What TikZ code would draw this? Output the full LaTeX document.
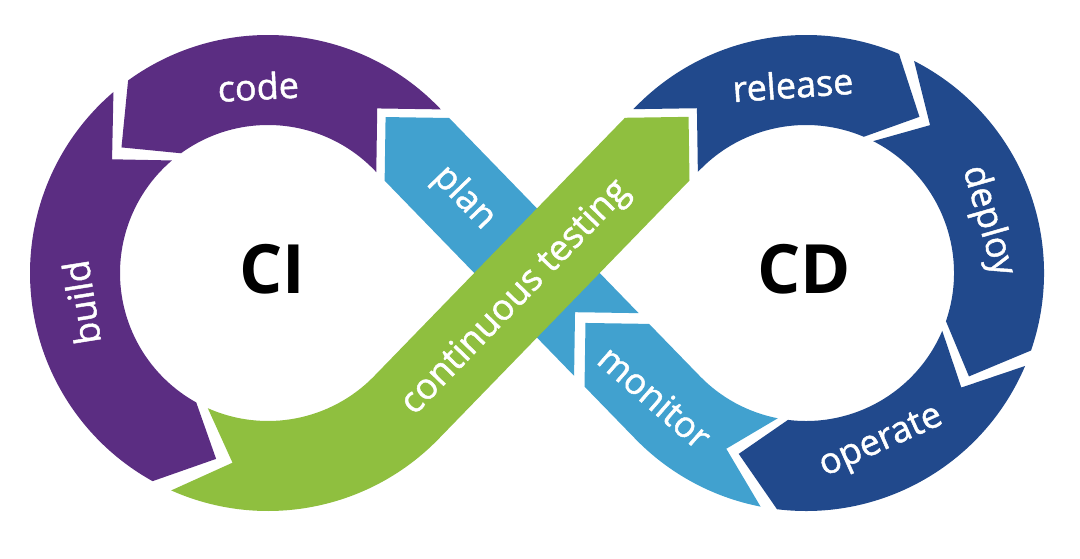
\documentclass[tikz,border=0pt]{standalone}
\usepackage{fontspec}
\setmainfont{Open Sans}
\newfontfamily\lblfont[FakeBold=1.3]{Open Sans}
\usetikzlibrary{calc}

\definecolor{ciPurple}{HTML}{5B2D82}
\definecolor{cdBlue}{HTML}{21498C}
\definecolor{loopBlue}{HTML}{41A1CF}
\definecolor{testGreen}{HTML}{8FBF3F}

\def\rOut{238}
\def\rIn{148}
\def\rMid{193}
% points on the two crossing bands: distance along, offset across
\newcommand{\onplan}[2]{($(TL)+(-45.85:#1)+(44.15:#2)$)}
\newcommand{\ongreen}[2]{($(GL)+(45.85:#1)+(-44.15:#2)$)}

\begin{document}
\begin{tikzpicture}[x=1pt,y=1pt,
    lbl/.style={text=white,inner sep=0pt,font=\lblfont\fontsize{36}{36}\selectfont},
    big/.style={text=black,font=\fontsize{68}{68}\selectfont\bfseries}]
  \useasboundingbox (0,-559) rectangle (1080,0);

  \coordinate (L) at (268,-273);
  \coordinate (R) at (806,-273);
  \coordinate (TL) at ($(L)+(44.15:\rMid)$);
  \coordinate (GL) at ($(L)+(-44.15:\rMid)$);

  % plan
  \fill[loopBlue] \onplan{287}{45} -- \onplan{15}{45} -- \onplan{-30}{0}
    -- \onplan{15}{-45} -- \onplan{287}{-45} -- \onplan{242}{0} -- cycle;
  % monitor
  \fill[loopBlue] ($(R)+(-101:\rOut)$) arc[start angle=-101,end angle=-135.85,radius=\rOut]
    -- \onplan{302}{-45} -- \onplan{257}{0} -- \onplan{302}{45}
    -- ($(R)+(224.15:\rIn)$) arc[start angle=224.15,end angle=259,radius=\rIn]
    -- ($(R)+(-114.4:\rMid)$) -- cycle;
  % code
  \fill[ciPurple] \onplan{3}{45} -- ($(L)+(44.15:\rOut)$)
    arc[start angle=44.15,end angle=126,radius=\rOut]
    -- ($(L)+(139.4:\rMid)$) -- ($(L)+(126:\rIn)$)
    arc[start angle=126,end angle=44.15,radius=\rIn]
    -- \onplan{3}{-45} -- \onplan{-42}{0} -- cycle;
  % build
  \fill[ciPurple] ($(L)+(130.5:\rOut)$) arc[start angle=130.5,end angle=241,radius=\rOut]
    -- ($(L)+(254.4:\rMid)$) -- ($(L)+(241:\rIn)$)
    arc[start angle=241,end angle=130.5,radius=\rIn]
    -- ($(L)+(143.9:\rMid)$) -- cycle;
  % release
  \fill[cdBlue] \ongreen{372}{-45} -- ($(R)+(135.85:\rOut)$)
    arc[start angle=135.85,end angle=67,radius=\rOut]
    -- ($(R)+(54:\rMid)$) -- ($(R)+(67:\rIn)$)
    arc[start angle=67,end angle=135.85,radius=\rIn]
    -- \ongreen{372}{45} -- \ongreen{417}{0} -- cycle;
  % deploy
  \fill[cdBlue] ($(R)+(63:\rOut)$) arc[start angle=63,end angle=-19,radius=\rOut]
    -- ($(R)+(-32.4:\rMid)$) -- ($(R)+(-19:\rIn)$)
    arc[start angle=-19,end angle=63,radius=\rIn]
    -- ($(R)+(50:\rMid)$) -- cycle;
  % operate
  \fill[cdBlue] ($(R)+(-23:\rOut)$) arc[start angle=-23,end angle=-97,radius=\rOut]
    -- ($(R)+(-110.4:\rMid)$) -- ($(R)+(-97:\rIn)$)
    arc[start angle=-97,end angle=-23,radius=\rIn]
    -- ($(R)+(-36.4:\rMid)$) -- cycle;
  % continuous testing, on top
  \fill[testGreen] ($(L)+(246:\rOut)$) arc[start angle=246,end angle=315.85,radius=\rOut]
    -- \ongreen{360}{45} -- \ongreen{405}{0} -- \ongreen{360}{-45}
    -- ($(L)+(315.85:\rIn)$) arc[start angle=315.85,end angle=246,radius=\rIn]
    -- ($(L)+(259.4:\rMid)$) -- cycle;

  % labels
  \node[lbl,rotate=3] (code) at ($(L)+(93:187)$) {code};
  \node[lbl,rotate=99] (build) at ($(L)+(189:189)$) {build};
  \node[lbl,rotate=-46] (plan) at (464,-198) {plan};
  \node[lbl,rotate=46] (testing) at (516,-298) {continuous testing};
  \node[lbl,rotate=4] (release) at ($(R)+(94:189)$) {release};
  \node[lbl,rotate=-74] (deploy) at ($(R)+(16:189)$) {deploy};
  \node[lbl,rotate=24] (operate) at ($(R)+(-66:186)$) {operate};
  \node[lbl,rotate=-41] (monitor) at (655,-397) {monitor};
  \node[big] (ci) at (272,-269) {CI};
  \node[big] (cd) at (804,-269) {CD};
\end{tikzpicture}
\end{document}
